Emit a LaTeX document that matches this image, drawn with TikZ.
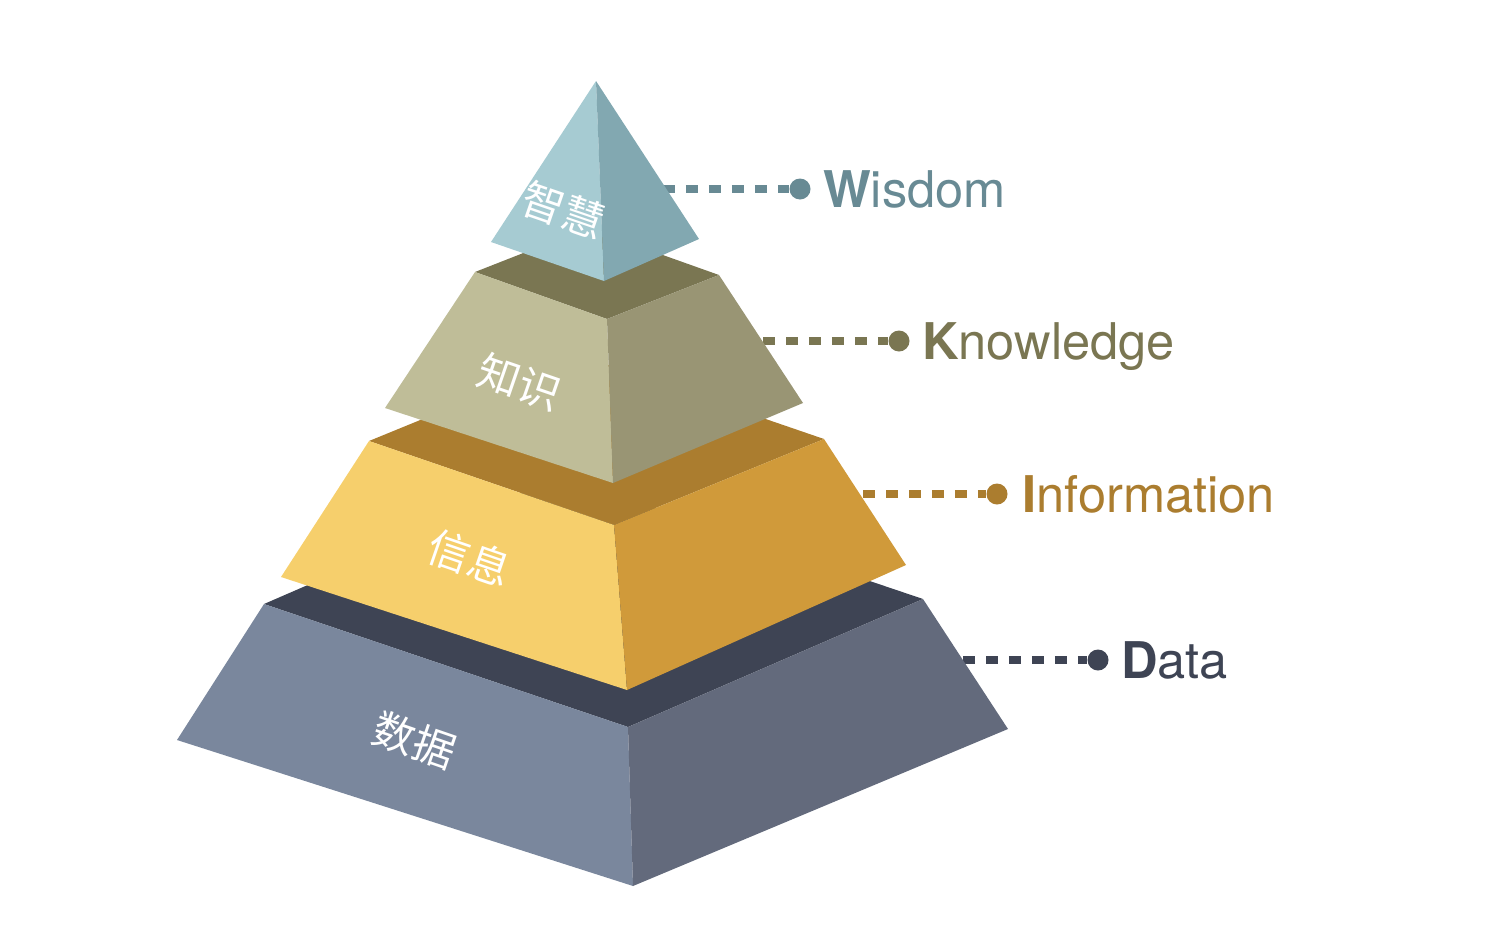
\documentclass[tikz,border=0pt]{standalone}
\usepackage{fontspec}
\setmainfont{TeX Gyre Heros}
\newfontfamily\cjk{Noto Sans CJK SC}
\usetikzlibrary{positioning}
\definecolor{wisL}{HTML}{A6CBD2}
\definecolor{wisR}{HTML}{82A8B1}
\definecolor{wisK}{HTML}{688A94}
\definecolor{knoL}{HTML}{BFBD98}
\definecolor{knoR}{HTML}{999574}
\definecolor{knoT}{HTML}{7A7652}
\definecolor{infL}{HTML}{F6CF6C}
\definecolor{infR}{HTML}{D09A3A}
\definecolor{infT}{HTML}{AB7D2F}
\definecolor{datL}{HTML}{7A879D}
\definecolor{datR}{HTML}{636A7C}
\definecolor{datT}{HTML}{3E4454}

\begin{document}
\begin{tikzpicture}[x=0.02cm,y=-0.02cm,
dot/.style={circle,fill,inner sep=0pt,minimum size=0.42cm},
lead/.style={line width=4pt,dash pattern=on 0.24cm off 0.22cm},
lbl/.style={font=\fontsize{28.8}{33}\selectfont,inner sep=0pt},
cn/.style={font=\cjk\fontsize{24}{28}\selectfont,text=white,inner sep=0pt}]
\useasboundingbox (0,0) rectangle (1498,937);

\coordinate (wisS) at (640,189);
\coordinate (knoS) at (740,341);
\coordinate (infS) at (840,494);
\coordinate (datS) at (940,660);
\node[dot,wisK] (wisD) at (800,189) {};
\node[dot,knoT] (knoD) at (899,341) {};
\node[dot,infT] (infD) at (997,494) {};
\node[dot,datT] (datD) at (1098,660) {};
\draw[lead,wisK] (wisS) -- (wisD);
\draw[lead,knoT] (knoS) -- (knoD);
\draw[lead,infT] (infS) -- (infD);
\draw[lead,datT] (datS) -- (datD);
\node[lbl,text=wisK,right=0.24cm of wisD.east,anchor=base west,yshift=-0.36cm] (wisN) {\textbf{W}isdom};
\node[lbl,text=knoT,right=0.24cm of knoD.east,anchor=base west,yshift=-0.36cm] (knoN) {\textbf{K}nowledge};
\node[lbl,text=infT,right=0.28cm of infD.east,anchor=base west,yshift=-0.36cm] (infN) {\textbf{I}nformation};
\node[lbl,text=datT,right=0.24cm of datD.east,anchor=base west,yshift=-0.36cm] (datN) {\textbf{D}ata};

\fill[datT] (264,604) -- (628,727) -- (923,599) -- (559,476) -- cycle;
\fill[datL] (264,604) -- (628,727) -- (633,886) -- (177,740) -- cycle;
\fill[datR] (628,727) -- (923,599) -- (1008,729) -- (633,886) -- cycle;

\fill[infT] (369,441) -- (614,525) -- (824,439) -- (579,355) -- cycle;
\fill[infL] (369,441) -- (614,525) -- (627,690) -- (281,577) -- cycle;
\fill[infR] (614,525) -- (824,439) -- (906,565) -- (627,690) -- cycle;

\fill[knoT] (475,272) -- (607,319) -- (719,275) -- (587,228) -- cycle;
\fill[knoL] (475,272) -- (607,319) -- (613,483) -- (385,408) -- cycle;
\fill[knoR] (607,319) -- (719,275) -- (803,403) -- (613,483) -- cycle;

\fill[wisL] (596,81) -- (604,281) -- (491,242) -- cycle;
\fill[wisR] (596,81) -- (604,281) -- (699,239) -- cycle;

\node[cn,rotate=-19] (datC) at (415,740) {数据};
\node[cn,rotate=-19] (infC) at (470,558) {信息};
\node[cn,rotate=-19] (knoC) at (520,382) {知识};
\node[cn,rotate=-19] (wisC) at (564,210) {智慧};
\end{tikzpicture}
\end{document}
